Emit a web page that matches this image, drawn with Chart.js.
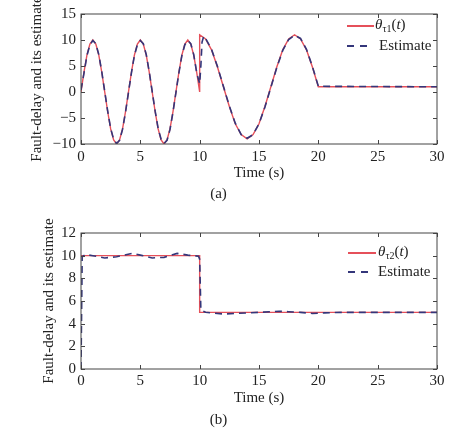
<!DOCTYPE html>
<html>
<head>
<meta charset="utf-8">
<script src="https://cdn.jsdelivr.net/npm/chart.js@4.4.1/dist/chart.umd.min.js"></script>
<style>
  body { margin: 0; background: #fff; }
  #wrap { position: relative; width: 474px; height: 428px; overflow: hidden; font-family: "Liberation Serif", "Times New Roman", serif; color: #222; }
  canvas { position: absolute; left: 0; }
  .lg { position: absolute; font-size: 15px; line-height: 18px; white-space: nowrap; }
  .lg sub { font-size: 10px; vertical-align: -3px; line-height: 0; }
  .sw { position: absolute; height: 2px; }
  .red { background: #e5505a; }
  .dash { background: repeating-linear-gradient(to right, #34367a 0 7px, transparent 7px 13px); height: 2px; }
</style>
</head>
<body>
<div id="wrap">
  <canvas id="chartA" width="474" height="214" style="top:0"></canvas>
  <canvas id="chartB" width="474" height="214" style="top:214px"></canvas>

  <div class="sw red" style="left:347px;top:25px;width:27px"></div>
  <div class="lg" style="left:375px;top:15px"><i>θ</i><sub>τ1</sub>(<i>t</i>)</div>
  <div class="sw dash" style="left:347px;top:45px;width:24px"></div>
  <div class="lg" style="left:379px;top:36px">Estimate</div>

  <div class="sw red" style="left:348px;top:252px;width:28px"></div>
  <div class="lg" style="left:378px;top:242px"><i>θ</i><sub>τ2</sub>(<i>t</i>)</div>
  <div class="sw dash" style="left:348px;top:271px;width:24px"></div>
  <div class="lg" style="left:378px;top:262px">Estimate</div>
</div>

<script>
// (a) fault-delay theta_tau1 and its estimate
const timeA = [0, 0.25, 0.5, 0.75, 1, 1.25, 1.5, 1.75, 2, 2.25, 2.5, 2.75, 3, 3.25, 3.5, 3.75,
  4, 4.25, 4.5, 4.75, 5, 5.25, 5.5, 5.75, 6, 6.25, 6.5, 6.75, 7, 7.25, 7.5, 7.75,
  8, 8.25, 8.5, 8.75, 9, 9.25, 9.5, 9.75, 10,
  10, 10.5, 11, 11.5, 12, 12.5, 13, 13.5, 14, 14.5, 15, 15.5, 16, 16.5, 17, 17.5,
  18, 18.5, 19, 19.5, 20, 30];
const thetaA = [0, 3.8, 7.1, 9.2, 10, 9.2, 7.1, 3.8, 0, -3.8, -7.1, -9.2, -10, -9.2, -7.1, -3.8,
  0, 3.8, 7.1, 9.2, 10, 9.2, 7.1, 3.8, 0, -3.8, -7.1, -9.2, -10, -9.2, -7.1, -3.8,
  0, 3.8, 7.1, 9.2, 10, 9.2, 7.1, 3.8, 0,
  11, 10.2, 8.1, 4.8, 1, -2.8, -6.1, -8.2, -9, -8.2, -6.1, -2.8, 1, 4.8, 8.1, 10.2,
  11, 10.2, 8.1, 4.8, 1, 1];
const timeEstA = [0, 0.25, 0.5, 0.75, 1, 1.25, 1.5, 1.75, 2, 2.25, 2.5, 2.75, 3, 3.25, 3.5, 3.75,
  4, 4.25, 4.5, 4.75, 5, 5.25, 5.5, 5.75, 6, 6.25, 6.5, 6.75, 7, 7.25, 7.5, 7.75,
  8, 8.25, 8.5, 8.75, 9, 9.25, 9.5, 9.75, 10, 10.1, 10.2, 10.35,
  10.5, 11, 11.5, 12, 12.5, 13, 13.5, 14, 14.5, 15, 15.5, 16, 16.5, 17, 17.5,
  18, 18.5, 19, 19.5, 20, 30];
const estA = [0.4, 3.6, 7.0, 9.1, 9.9, 9.3, 7.2, 3.9, 0.1, -3.7, -7.0, -9.1, -9.9, -9.3, -7.2, -3.9,
  -0.1, 3.7, 7.0, 9.1, 9.9, 9.3, 7.2, 3.9, 0.1, -3.7, -7.0, -9.1, -9.9, -9.3, -7.2, -3.9,
  -0.1, 3.7, 7.0, 9.1, 9.9, 9.3, 7.2, 3.7, 1.6, 5.0, 9.6, 10.8,
  10.3, 8.2, 4.9, 1.1, -2.7, -6.0, -8.2, -8.9, -8.2, -6.1, -2.9, 0.9, 4.7, 8.0, 10.1,
  10.9, 10.3, 8.2, 4.9, 1.1, 1];

// (b) fault-delay theta_tau2 and its estimate
const timeB = [0, 10, 10, 30];
const thetaB = [10, 10, 5, 5];
const timeEstB = [0, 0.1, 0.4, 1, 2, 3, 4.3, 5, 6, 7, 8.1, 9, 9.9, 10, 10.1, 10.5, 11, 12, 13,
  14, 15, 16, 16.7, 17.5, 18.5, 19.5, 20.5, 22, 25, 30];
const estB = [0, 9.9, 10.1, 10, 9.8, 9.9, 10.2, 10.05, 9.8, 9.85, 10.2, 10.05, 9.95, 9.7, 5.2, 5,
  4.95, 4.85, 4.9, 4.95, 5, 5.05, 5.1, 5.05, 5, 4.9, 4.95, 5, 5, 5];

const xTicks = [0, 5, 10, 15, 20, 25, 30];

const RED = '#e5505a';
const NAVY = '#34367a';
const FONT = '"Liberation Serif", "Times New Roman", serif';

function toPoints(xs, ys) {
  return xs.map((x, i) => ({ x: x, y: ys[i] }));
}

// box around the plot with inward tick marks on all four sides
const framePlugin = {
  id: 'frame',
  afterDatasetsDraw(chart) {
    const { ctx, chartArea: a, scales: { x, y } } = chart;
    ctx.save();
    ctx.strokeStyle = '#444';
    ctx.lineWidth = 1;
    ctx.strokeRect(a.left, a.top, a.right - a.left, a.bottom - a.top);
    ctx.beginPath();
    x.ticks.forEach(t => {
      const px = Math.round(x.getPixelForValue(t.value)) + 0.5;
      ctx.moveTo(px, a.bottom); ctx.lineTo(px, a.bottom - 4);
      ctx.moveTo(px, a.top); ctx.lineTo(px, a.top + 4);
    });
    y.ticks.forEach(t => {
      const py = Math.round(y.getPixelForValue(t.value)) + 0.5;
      ctx.moveTo(a.left, py); ctx.lineTo(a.left + 4, py);
      ctx.moveTo(a.right, py); ctx.lineTo(a.right - 4, py);
    });
    ctx.stroke();
    ctx.restore();
  }
};

function makeChart(id, o) {
  return new Chart(document.getElementById(id), {
    type: 'line',
    data: {
      datasets: [{
        label: 'Estimate',
        data: toPoints(o.tEst, o.est),
        borderColor: NAVY,
        borderWidth: 1.6,
        borderDash: [7, 5],
        pointRadius: 0,
        fill: false,
        order: 0
      }, {
        label: o.label,
        data: toPoints(o.t, o.theta),
        borderColor: RED,
        borderWidth: 1.4,
        pointRadius: 0,
        fill: false,
        order: 1
      }]
    },
    options: {
      responsive: false,
      animation: false,
      layout: { padding: o.pad },
      plugins: {
        legend: { display: false },
        tooltip: { enabled: false },
        subtitle: {
          display: true,
          text: o.caption,
          position: 'bottom',
          color: '#222',
          font: { family: FONT, size: 15, lineHeight: 1 },
          padding: 0
        }
      },
      scales: {
        x: {
          type: 'linear',
          min: 0,
          max: 30,
          afterBuildTicks: s => { s.ticks = xTicks.map(v => ({ value: v })); },
          afterFit: s => { s.height = o.xHeight; },
          grid: { display: false, drawTicks: false },
          border: { display: false },
          ticks: { color: '#222', padding: o.xTickPad, maxRotation: 0, font: { family: FONT, size: 15 } },
          title: {
            display: true,
            text: 'Time (s)',
            color: '#222',
            font: { family: FONT, size: 15 },
            padding: { top: 0, bottom: o.xTitlePad }
          }
        },
        y: {
          min: o.yMin,
          max: o.yMax,
          afterBuildTicks: s => { s.ticks = o.yTicks.map(v => ({ value: v })); },
          afterFit: s => { s.width = 81; },
          grid: { display: false, drawTicks: false },
          border: { display: false },
          ticks: {
            color: '#222',
            padding: 5,
            font: { family: FONT, size: 15 },
            callback: v => String(v).replace('-', '\u2212')
          },
          title: {
            display: true,
            text: 'Fault-delay and its estimate',
            color: '#222',
            font: { family: FONT, size: 15 },
            padding: { top: o.yTitlePad, bottom: 0 }
          }
        }
      }
    },
    plugins: [framePlugin]
  });
}

makeChart('chartA', {
  t: timeA, theta: thetaA, tEst: timeEstA, est: estA,
  label: 'θτ1(t)', caption: '(a)',
  yMin: -10, yMax: 15, yTicks: [-10, -5, 0, 5, 10, 15],
  pad: { top: 9, right: 37, bottom: 12.5, left: 0 },
  xHeight: 42.5, xTickPad: 4, xTitlePad: 4.5, yTitlePad: 28.5
});

makeChart('chartB', {
  t: timeB, theta: thetaB, tEst: timeEstB, est: estB,
  label: 'θτ2(t)', caption: '(b)',
  yMin: 0, yMax: 12, yTicks: [0, 2, 4, 6, 8, 10, 12],
  pad: { top: 19, right: 37, bottom: 0.5, left: 0 },
  xHeight: 43.5, xTickPad: 3, xTitlePad: 5.8, yTitlePad: 40
});
</script>
</body>
</html>
